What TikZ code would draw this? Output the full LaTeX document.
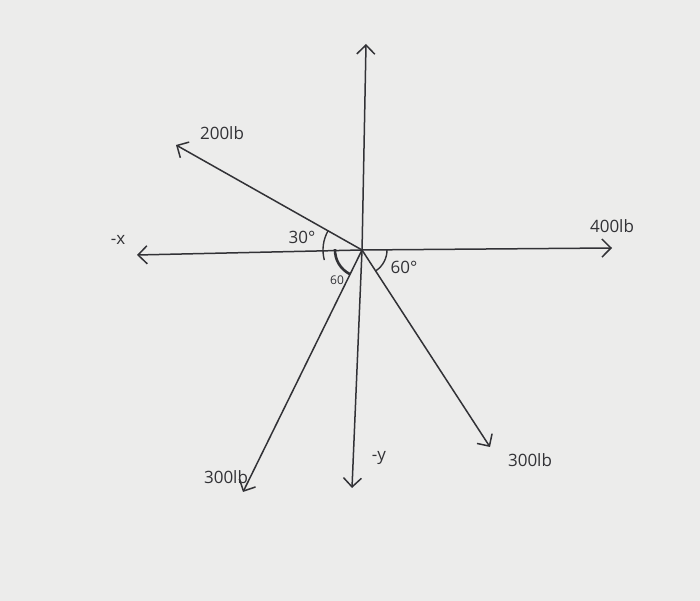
\documentclass[tikz,border=0pt]{standalone}
\usepackage{fontspec}
\setmainfont{Open Sans}
\usetikzlibrary{arrows.meta}
\definecolor{paper}{RGB}{236,236,235}
\definecolor{ink}{RGB}{50,50,54}
\begin{document}
\begin{tikzpicture}[x=1pt,y=1pt,
  vec/.style={draw=ink,line width=1.5pt,-{Straight Barb[length=9pt,width=18pt,line width=1.5pt]}},
  anglearc/.style={draw=ink,line width=1.4pt},
  lbl/.style={text=ink,font=\fontsize{17}{19}\selectfont,inner sep=1pt},
  small/.style={text=ink,font=\fontsize{12}{14}\selectfont,inner sep=0pt}]
\useasboundingbox[fill=paper] (0,0) rectangle (700,601);
% points
\coordinate (O) at (362,351);
\coordinate (Ybot) at (362,349);
\coordinate (Top) at (366,557);
\coordinate (Bot) at (352,113);
\coordinate (Xl) at (137,346);
\coordinate (Xr) at (612,353);
\coordinate (F200) at (176,456);
\coordinate (F300l) at (243,109);
\coordinate (F300r) at (490,154);
% axes and forces
\draw[vec] (Ybot) -- (Top);
\draw[vec] (O) -- (Bot);
\draw[vec] (O) -- (Xl);
\draw[vec] (O) -- (Xr);
\draw[vec] (O) -- (F200);
\draw[vec] (O) -- (F300l);
\draw[vec] (O) -- (F300r);
% angle arcs
\draw[anglearc] (O) ++(150:39) arc (150:195:39);
\draw[draw=ink,line width=2.6pt] (O) ++(178:27) arc (178:243:27);
\draw[anglearc] (O) ++(2:25) arc (2:-57:25);
% labels
\node[lbl] (lx) at (118,361) {-x};
\node[lbl] (l400) at (612,375) {400lb};
\node[lbl] (l200) at (222,468) {200lb};
\node[lbl] (l300l) at (226,124) {300lb};
\node[lbl] (ly) at (379,143) {-y};
\node[lbl] (l300r) at (530,141) {300lb};
\node[lbl] (a30) at (302,364) {30°};
\node[lbl] (a60r) at (404,334) {60°};
\node[small] (a60l) at (337,321) {60};
\end{tikzpicture}
\end{document}
